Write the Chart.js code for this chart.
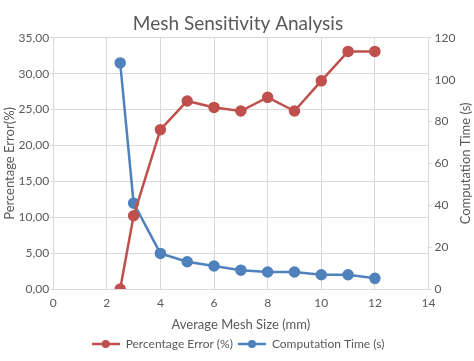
<!DOCTYPE html>
<html>
<head>
<meta charset="utf-8">
<script src="https://cdn.jsdelivr.net/npm/chart.js@4"></script>
<style>
  body { margin: 0; background: #fff; }
  #wrap { width: 474px; height: 361px; }
</style>
</head>
<body>
<div id="wrap"><canvas id="myChart" width="474" height="361"></canvas></div>
<script>
// data
var meshSize = [2.5, 3, 4, 5, 6, 7, 8, 9, 10, 11, 12];
var percentError = [0, 10.2, 22.2, 26.2, 25.3, 24.8, 26.7, 24.8, 29.0, 33.1, 33.1];
var computationTime = [108, 41, 17, 13, 11, 9, 8.1, 8.1, 6.8, 6.8, 5.1];

var red = '#C0504D';
var blue = '#4F81BD';
var textGrey = '#595959';
var gridGrey = '#D9D9D9';
var fontFamily = "Lato, 'Open Sans', sans-serif";

function legendIcon(color) {
    var c = document.createElement('canvas');
    c.width = 28; c.height = 10;
    var g = c.getContext('2d');
    g.strokeStyle = color;
    g.lineWidth = 2.5;
    g.beginPath(); g.moveTo(0, 5); g.lineTo(28, 5); g.stroke();
    g.fillStyle = color;
    g.beginPath(); g.arc(14, 5, 4, 0, Math.PI * 2); g.fill();
    return c;
}
var redIcon = legendIcon(red);
var blueIcon = legendIcon(blue);

function toPoints(xs, ys) {
    return xs.map(function (x, i) { return { x: x, y: ys[i] }; });
}

// right axis title in Excel reads bottom-to-top, so draw it ourselves
var rightTitle = {
    id: 'rightTitle',
    afterDraw: function (chart) {
        var s = chart.scales.y1;
        var c = chart.ctx;
        c.save();
        c.translate(s.right - 8, (s.top + s.bottom) / 2);
        c.rotate(-Math.PI / 2);
        c.fillStyle = textGrey;
        c.font = '13px ' + fontFamily;
        c.textAlign = 'center';
        c.textBaseline = 'middle';
        c.fillText('Computation Time (s)', 0, 0);
        c.restore();
    }
};

var ctx = document.getElementById('myChart').getContext('2d');
var myChart = new Chart(ctx, {
    type: 'scatter',
    data: {
        datasets: [{
            label: 'Percentage Error (%)',
            data: toPoints(meshSize, percentError),
            borderColor: red,
            backgroundColor: red,
            showLine: true,
            borderWidth: 2.5,
            pointRadius: 4.5,
            pointStyle: 'circle',
            yAxisID: 'y'
        }, {
            label: 'Computation Time (s)',
            data: toPoints(meshSize, computationTime),
            borderColor: blue,
            backgroundColor: blue,
            showLine: true,
            borderWidth: 2.5,
            pointRadius: 4.5,
            pointStyle: 'circle',
            yAxisID: 'y1'
        }]
    },
    options: {
        responsive: false,
        animation: false,
        layout: { padding: { left: 2, right: 0, top: 3, bottom: 1 } },
        plugins: {
            title: {
                display: true,
                text: 'Mesh Sensitivity Analysis',
                color: textGrey,
                font: { size: 19, family: fontFamily, weight: 'normal' },
                padding: { top: 9, bottom: 3 }
            },
            legend: {
                position: 'bottom',
                labels: {
                    usePointStyle: true,
                    pointStyleWidth: 28,
                    color: textGrey,
                    font: { size: 12, family: fontFamily },
                    boxHeight: 10,
                    padding: 5,
                    generateLabels: function (chart) {
                        return chart.data.datasets.map(function (ds, i) {
                            return {
                                text: ds.label,
                                pointStyle: i === 0 ? redIcon : blueIcon,
                                fontColor: textGrey,
                                strokeStyle: ds.borderColor,
                                fillStyle: ds.backgroundColor,
                                lineWidth: 0,
                                datasetIndex: i
                            };
                        });
                    }
                }
            },
            tooltip: { enabled: false }
        },
        scales: {
            x: {
                type: 'linear',
                min: 0,
                max: 14,
                ticks: { stepSize: 2, padding: 7, color: textGrey, font: { size: 12, family: fontFamily } },
                grid: { color: gridGrey, drawTicks: false },
                border: { color: gridGrey },
                title: {
                    display: true,
                    text: 'Average Mesh Size (mm)',
                    color: textGrey,
                    font: { size: 13, family: fontFamily },
                    padding: { top: 0, bottom: 0 }
                }
            },
            y: {
                position: 'left',
                min: 0,
                max: 35,
                ticks: {
                    stepSize: 5,
                    padding: 1,
                    color: textGrey,
                    font: { size: 12, family: fontFamily },
                    callback: function (v) { return v.toFixed(2).replace('.', ','); }
                },
                grid: { color: gridGrey, tickLength: 3 },
                border: { display: false },
                title: {
                    display: true,
                    text: 'Percentage Error(%)',
                    color: textGrey,
                    font: { size: 13, family: fontFamily },
                    padding: { top: 0, bottom: 0 }
                }
            },
            y1: {
                position: 'right',
                min: 0,
                max: 120,
                ticks: { stepSize: 20, padding: 3, color: textGrey, font: { size: 12, family: fontFamily } },
                grid: { drawOnChartArea: false, color: gridGrey, tickLength: 3 },
                border: { display: false },
                title: {
                    display: true,
                    text: 'Computation Time (s)',
                    color: 'rgba(0,0,0,0)',
                    font: { size: 13, family: fontFamily },
                    padding: { top: 0, bottom: 0 }
                }
            }
        }
    },
    plugins: [rightTitle]
});
</script>
</body>
</html>
